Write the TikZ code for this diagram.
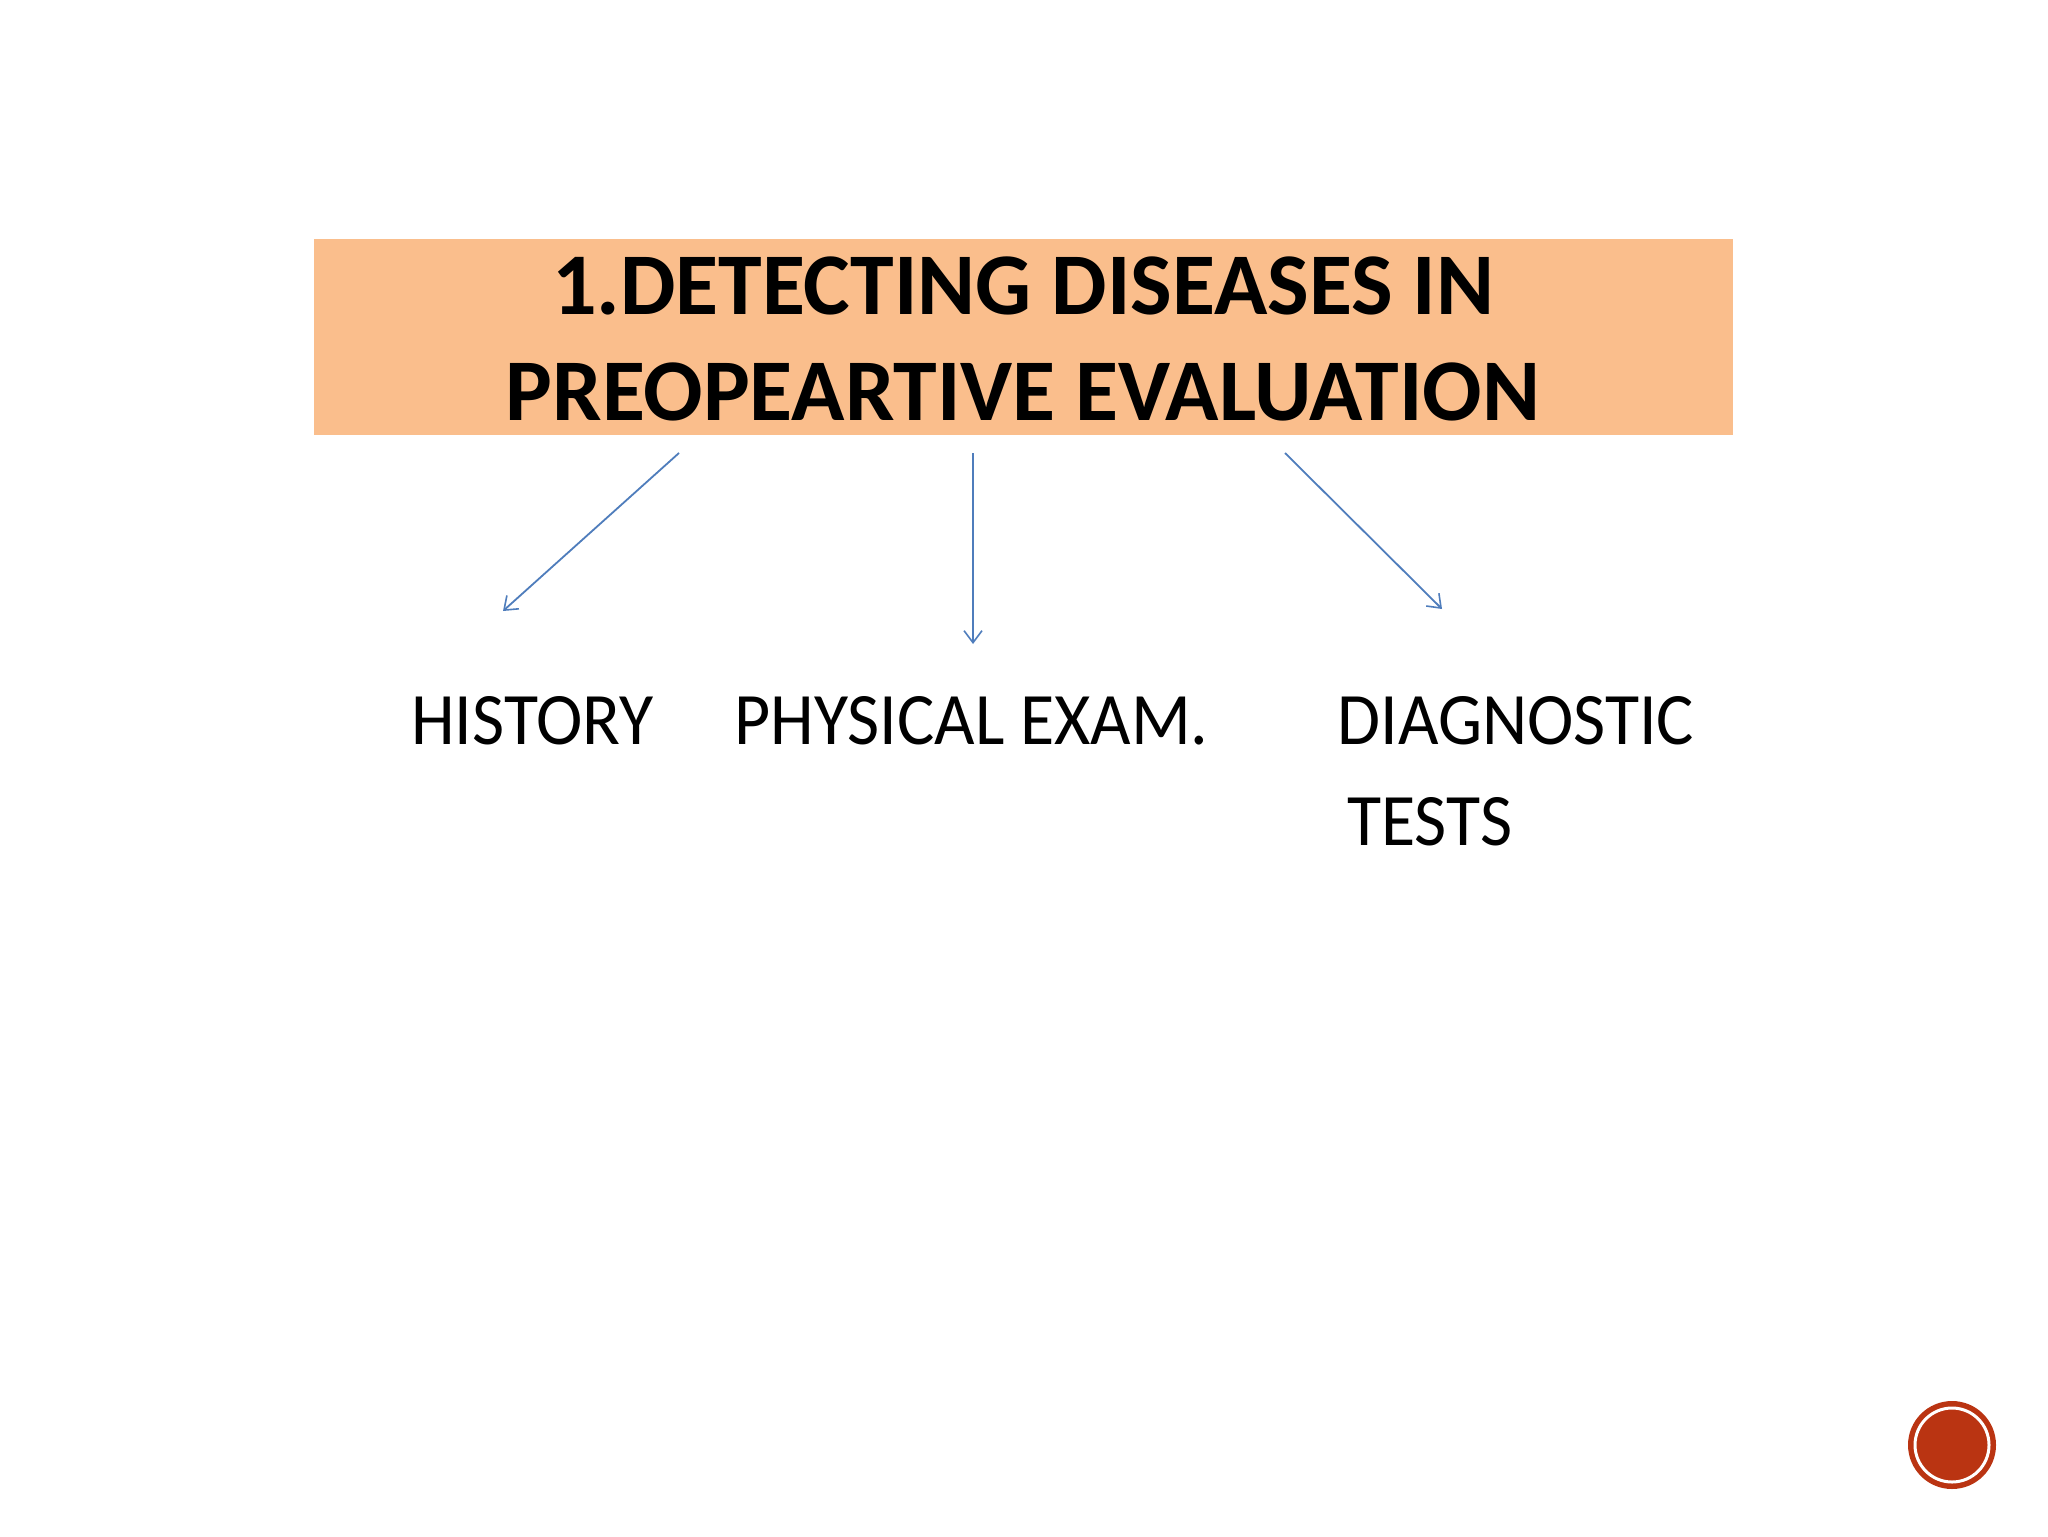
\documentclass[tikz,border=0pt]{standalone}
\usepackage{fontspec}
\setmainfont{Carlito}
\newfontfamily\itemfont[FakeStretch=0.945]{Carlito}
\usetikzlibrary{arrows.meta}

\definecolor{boxorange}{RGB}{250,190,140}
\definecolor{linkblue}{RGB}{79,125,188}
\definecolor{dotred}{RGB}{186,52,18}

\tikzset{
  title/.style={font=\bfseries\fontsize{44}{53}\selectfont, align=center, inner sep=0pt},
  item/.style={font=\itemfont\fontsize{37}{50}\selectfont, anchor=base west, inner sep=0pt},
  link/.style={draw=linkblue, line width=0.9pt, -{Straight Barb[length=6pt,width=9pt,line width=0.8pt]}}
}

\begin{document}
\begin{tikzpicture}[x=0.5pt,y=0.5pt,yscale=-1,xscale=1]
\useasboundingbox (0,0) rectangle (2048,1536);
\fill[white] (0,0) rectangle (2048,1536);

% orange title bar
\fill[boxorange] (314,239) rectangle (1733,435);
\node[title] (head) at (1023,339) {1.DETECTING DISEASES IN\\PREOPEARTIVE EVALUATION};

% three labels
\node[item] (hist) at (411,744) {HISTORY};
\node[item] (phys) at (734,744) {PHYSICAL EXAM.};
\node[item, align=left] (diag) at (1337,845) {DIAGNOSTIC\\[0.5pt]\hspace{5pt}TESTS};

% arrow ends
\coordinate (hs) at (679,453);
\coordinate (he) at (503,611);
\coordinate (ps) at (973,453);
\coordinate (pe) at (973,644);
\coordinate (ds) at (1285,453);
\coordinate (de) at (1442,609);

\draw[link] (hs) -- (he);
\draw[link] (ps) -- (pe);
\draw[link] (ds) -- (de);

% slide marker
\node[circle, fill=dotred, minimum size=44pt, inner sep=0pt] (dot) at (1952,1445) {};
\draw[white, line width=1.5pt] (dot.center) circle (37);
\end{tikzpicture}
\end{document}
